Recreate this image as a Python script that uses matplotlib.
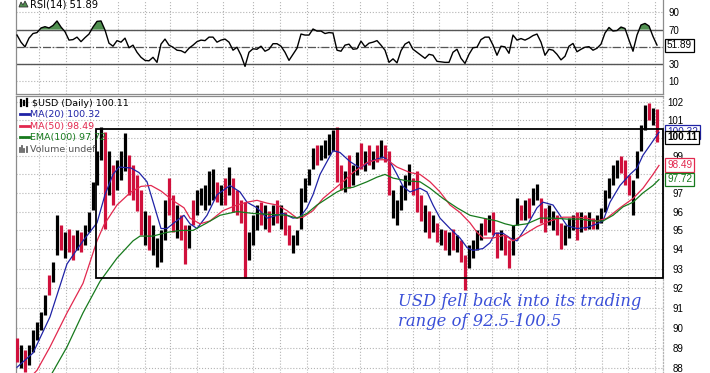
import numpy as np
import matplotlib
matplotlib.use("Agg")
import matplotlib.pyplot as plt
from matplotlib.lines import Line2D
from matplotlib.patches import Rectangle, Polygon

# ---- data (one bar roughly every 3-4 sessions) ----
highs = [89.5, 89.15, 88.9, 89.15, 89.9, 90.3, 90.8, 91.65, 92.7, 93.35,
         95.8, 95.3, 94.9, 95.1, 94.75, 95.0, 94.9, 95.3, 95.95, 97.6,
         99.3, 100.6, 100.35, 99.3, 98.5, 98.8, 99.3, 100.3, 99.05, 98.5,
         97.95, 97.15, 96.05, 95.8, 95.3, 94.6, 95.0, 96.6, 97.8, 96.9,
         96.35, 95.8, 95.3, 95.3, 96.6, 97.15, 97.25, 97.4, 98.2, 98.3,
         97.6, 97.4, 97.8, 98.4, 97.8, 97.15, 96.6, 96.5, 94.9, 95.8,
         96.35, 96.5, 96.35, 96.05, 96.35, 96.6, 96.35, 95.95, 95.3, 94.75,
         95.0, 97.25, 97.8, 98.3, 99.45, 99.6, 99.6, 99.9, 100.2, 100.45,
         100.6, 98.5, 98.2, 99.05, 98.5, 99.2, 99.7, 99.3, 99.6, 99.3,
         99.6, 99.9, 99.6, 99.3, 97.15, 96.6, 97.4, 97.95, 98.55, 97.8,
         98.2, 96.9, 96.35, 96.05, 95.8, 95.4, 95.1, 95.0, 94.9, 95.1,
         94.75, 94.5, 93.7, 94.25, 94.5, 95.0, 95.4, 95.65, 95.8, 95.95,
         94.9, 95.0, 94.75, 94.5, 95.3, 96.7, 96.35, 96.6, 96.7, 97.25,
         97.5, 96.7, 96.2, 96.35, 96.05, 95.8, 95.4, 95.3, 95.65, 95.8,
         95.95, 95.95, 95.8, 95.95, 95.65, 95.8, 96.2, 97.15, 97.8, 98.5,
         98.8, 99.0, 98.8, 97.95, 97.7, 99.3, 100.75, 101.85, 101.95, 101.7,
         101.6]
lows = [88.3, 88.0, 87.8, 88.15, 88.8, 89.4, 89.9, 90.65, 91.65, 92.3,
        93.7, 93.95, 93.55, 93.85, 93.45, 93.95, 93.85, 94.25, 94.9, 96.1,
        97.45, 98.8, 95.1, 96.9, 96.35, 97.15, 97.7, 98.2, 96.9, 96.6,
        96.05, 94.75, 94.25, 93.95, 93.7, 93.1, 93.35, 94.5, 95.8, 94.9,
        94.6, 94.5, 93.25, 94.1, 95.3, 95.8, 96.35, 96.1, 96.35, 96.6,
        96.5, 96.35, 96.35, 96.9, 95.95, 95.8, 95.4, 92.5, 93.45, 94.25,
        95.0, 95.3, 95.1, 94.9, 95.3, 95.4, 95.1, 94.75, 94.25, 93.8,
        94.25, 95.1, 96.5, 97.4, 98.3, 98.5, 98.8, 98.9, 99.05, 99.3,
        97.6, 97.15, 97.05, 97.25, 97.45, 97.95, 98.3, 98.2, 98.5, 98.3,
        98.7, 98.9, 98.7, 96.9, 95.65, 95.3, 96.1, 96.6, 97.4, 96.9,
        95.95, 95.5, 94.9, 94.6, 94.9, 94.4, 94.25, 93.95, 93.7, 93.95,
        93.85, 93.35, 91.9, 93.05, 93.55, 93.95, 94.5, 94.75, 94.9, 94.75,
        93.55, 93.95, 93.7, 93.05, 93.7, 95.3, 95.55, 95.55, 95.65, 96.35,
        96.6, 95.4, 94.9, 95.3, 95.0, 94.75, 94.05, 94.25, 94.6, 95.0,
        94.5, 94.9, 95.0, 95.1, 95.1, 95.1, 95.4, 95.95, 96.7, 97.4,
        97.8, 98.1, 97.4, 96.9, 95.8, 97.8, 99.3, 100.45, 101.0, 100.75,
        99.8]
# k = closed up (black), r = closed down (red)
bar_colors = ("rkrkkkkkrk" "krkrrkrkkk" "kkrkrkkkrr" "rrkrkkkkrr" "krrkrkkkkk"
              "rkrkrrrrkk" "krkrkrkrrk" "kkkkkrkkkk" "rrkrkkrkrk" "rkrrkkkkkr"
              "rrkrkrkrkr" "krrkkkkrkr" "rkrrkkrkrk" "krrkkrrkkk" "rkrkrkkkkk"
              "krrrkkkkrk" "r")

rsi14 = [63.6, 55.3, 49.8, 60.0, 65.4, 66.5, 71.9, 73.4, 71.9, 74.8,
         80.1, 73.0, 67.5, 57.7, 58.3, 61.2, 55.9, 60.6, 64.8, 73.0,
         79.6, 80.1, 69.5, 54.1, 50.6, 57.1, 55.3, 60.0, 48.8, 51.8,
         43.5, 37.6, 34.0, 33.5, 37.6, 31.7, 53.0, 58.9, 51.8, 49.4,
         45.9, 45.3, 42.9, 48.2, 51.8, 55.9, 57.7, 57.1, 61.2, 61.2,
         55.3, 57.7, 58.9, 55.3, 45.9, 49.4, 40.0, 27.0, 43.5, 47.6,
         47.0, 50.6, 44.7, 47.0, 53.5, 53.5, 50.6, 43.5, 34.0, 41.1,
         48.2, 64.8, 63.6, 63.6, 70.7, 68.3, 68.3, 65.4, 66.5, 66.0,
         45.9, 44.7, 51.8, 53.0, 47.0, 47.6, 56.5, 50.0, 54.1, 55.3,
         57.1, 51.8, 45.9, 31.7, 35.8, 31.1, 45.3, 53.0, 55.7, 47.0,
         43.5, 40.0, 36.4, 41.1, 40.0, 32.9, 32.3, 31.7, 31.7, 43.5,
         47.0, 36.4, 30.5, 41.1, 48.8, 49.4, 58.3, 61.2, 61.2, 51.8,
         40.0, 50.6, 49.8, 42.3, 63.6, 57.7, 59.5, 57.7, 60.0, 63.0,
         64.8, 55.3, 40.0, 47.0, 45.9, 41.1, 34.6, 38.8, 50.6, 53.8,
         44.1, 47.0, 49.4, 50.0, 45.9, 48.2, 53.0, 66.0, 72.5, 68.3,
         68.9, 73.0, 71.3, 57.7, 44.7, 63.6, 75.4, 77.2, 74.2, 62.0,
         51.89]

ma20_at = [0, 4, 8.25, 12.5, 16.5, 20, 22, 24, 25.5, 28.5,
           30.5, 32.5, 34.25, 36, 37.5, 39.25, 41.75, 43.25, 45, 47.5,
           50, 53.25, 55.75, 57.5, 60, 62.5, 65, 66.5, 69, 70.75,
           72.5, 74, 75.75, 77.5, 79, 80.75, 83.25, 85.75, 88.25, 91.5,
           93.25, 95, 96.5, 98.25, 100.75, 102.5, 104, 105.75, 108.25, 110.75,
           112.5, 114, 116.5, 118.25, 119.5, 121.5, 123.25, 125, 127.5, 130,
           131.5, 134, 135.75, 137.5, 140, 142.5, 145, 146.5, 148.25, 150.75,
           153.25, 155, 156.5, 158.25, 160.5]
ma20 = [88.05, 88.75, 90.55, 93.25, 94.45, 95.4, 96.9, 98.0, 98.4, 98.35,
        98.1, 97.6, 96.35, 95.1, 95.1, 95.4, 95.8, 95.35, 95.1, 95.8,
        96.9, 97.4, 97.05, 96.5, 96.2, 95.65, 95.8, 95.9, 95.65, 95.7,
        96.2, 96.9, 98.0, 98.7, 99.3, 99.2, 98.7, 98.35, 98.7, 98.95,
        98.7, 98.0, 97.35, 97.05, 97.25, 97.05, 96.35, 95.65, 95.1, 94.6,
        94.1, 93.95, 94.05, 94.35, 94.85, 94.85, 94.6, 94.45, 95.25, 96.2,
        96.5, 96.35, 95.8, 95.25, 95.1, 95.15, 95.35, 95.5, 96.5, 97.4,
        98.0, 98.35, 99.05, 99.6, 100.32]

ma50_at = [3, 5, 8.25, 12.5, 16.5, 20, 21.75, 25, 28.5, 31, 33.5,
           36, 39.25, 41.75, 43.25, 45.75, 48.25, 51.5, 55, 57.5, 60,
           62.5, 65, 67.5, 70, 71.5, 74, 76.5, 79, 82, 84,
           87.5, 90, 92.5, 95, 98.25, 100.75, 103.25, 105.75, 108.25, 110.75,
           113.25, 115, 116.5, 119, 122, 124, 126.5, 130, 133.25, 136.5,
           140, 142.5, 145, 147.5, 150.75, 154, 156.5, 159, 160.5]
ma50 = [87.5, 87.9, 89.05, 90.75, 92.25, 94.45, 95.3, 96.35, 97.05, 97.35, 97.4,
        97.1, 96.55, 96.2, 95.65, 95.35, 95.5, 96.05, 96.35, 96.5, 96.6,
        96.45, 96.35, 96.05, 95.65, 95.7, 96.05, 96.7, 97.15, 97.7, 98.1,
        98.65, 98.8, 98.8, 98.4, 98.1, 98.0, 97.6, 97.05, 96.35, 95.95,
        95.4, 94.9, 94.6, 94.6, 94.75, 94.45, 94.75, 95.2, 95.5, 95.7,
        95.7, 95.65, 95.5, 95.65, 96.2, 96.7, 97.25, 98.0, 98.49]

ema100_at = [8, 12.5, 16.5, 20.75, 25, 29, 30.75, 34, 37.5, 41,
             44, 47.5, 50.75, 55, 59, 63.25, 67.5, 70, 72.5, 75,
             77.5, 80, 82, 84, 87.5, 90, 92, 94, 97.5, 100.75,
             103.25, 106.5, 110, 113.25, 116.5, 120, 122, 124, 127.5, 130.75,
             134, 137.5, 140.75, 144, 146.5, 149, 151.5, 154, 156.5, 159,
             160.5]
ema100 = [87.5, 89.05, 90.75, 92.35, 93.55, 94.45, 94.7, 94.7, 94.9, 95.0,
          95.0, 95.4, 95.8, 96.0, 95.9, 95.85, 95.8, 95.65, 95.9, 96.35,
          96.7, 97.05, 97.25, 97.3, 97.6, 97.85, 98.0, 97.8, 97.65, 97.6,
          97.25, 96.7, 96.2, 95.8, 95.65, 95.5, 95.35, 95.25, 95.35, 95.65,
          95.65, 95.6, 95.6, 95.5, 95.5, 95.8, 96.25, 96.5, 97.0, 97.4,
          97.72]

# month boundaries (bar positions) used for the vertical grid
month_starts = [5.5, 12.25, 18.25, 25.25, 32, 38.25, 45, 51.5, 59, 65.75,
                72.5, 79, 85.75, 92.5, 99, 105.5, 112.5, 118.75, 125.25, 132.5,
                139.5, 146.25, 152.75, 159.5]

range_low, range_high = 92.5, 100.5
range_from = 19.75

price_ticks = list(range(88, 103))
hidden_price_ticks = [100]      # covered by the last-value boxes
rsi_ticks = [10, 30, 50, 70, 90]
hidden_rsi_ticks = [50]

last_close, last_ma20, last_ma50, last_ema = 100.11, 100.32, 98.49, 97.72
last_rsi = 51.89

# ---- layout (pixel based, 710x373) ----
W, H = 710, 373
fig = plt.figure(figsize=(W / 100, H / 100), dpi=100)


def fx(px):
    return px / W


def fy(py):
    return 1 - py / H


X0, X1 = 16, 663
ax_rsi = fig.add_axes([fx(X0), fy(94), (X1 - X0) / W, 94 / H])
ax = fig.add_axes([fx(X0), 0, (X1 - X0) / W, fy(96)])

GRID = '#b4b4b4'
SPINE = '#8c8c8c'
RED = '#d0103c'
C_MA20 = '#1f22a6'
C_MA50 = '#e2284e'
C_EMA = '#177a1d'

xs = np.arange(len(highs))
xlim = (-0.25, 161.5)

# ---- RSI panel ----
rsi = np.array(rsi14)
ax_rsi.plot(xs, rsi, color='black', lw=1.0, zorder=4)
ax_rsi.fill_between(xs, rsi, 70, where=rsi > 70, interpolate=True,
                    color='#4f8f4f', zorder=3, lw=0)
ax_rsi.fill_between(xs, rsi, 30, where=rsi < 30, interpolate=True,
                    color='#4f8f4f', zorder=3, lw=0)
ax_rsi.axhline(70, color='#555555', lw=1.0, zorder=2)
ax_rsi.axhline(30, color='#555555', lw=1.0, zorder=2)
ax_rsi.axhline(50, color='#555555', lw=0.9, ls='-.', zorder=2)
ax_rsi.set_xlim(*xlim)
ax_rsi.set_ylim(-5.3, 104.6)
ax_rsi.set_xticks(month_starts)
ax_rsi.set_yticks(rsi_ticks)
ax_rsi.set_yticklabels(['' if t in hidden_rsi_ticks else str(t) for t in rsi_ticks])
ax_rsi.yaxis.tick_right()
ax_rsi.tick_params(length=0, labelbottom=False, labelsize=7, pad=4,
                   labelfontfamily='Liberation Sans')
ax_rsi.grid(True, ls=':', color=GRID, lw=0.8, zorder=0)
for side, sp in ax_rsi.spines.items():
    sp.set_color(SPINE)
    sp.set_linewidth(0.9)
ax_rsi.spines['top'].set_visible(False)

# ---- price panel ----
cols = ['black' if c == 'k' else RED for c in bar_colors]
ax.vlines(xs, lows, highs, colors=cols, lw=2.3, zorder=3)
ax.plot(ma20_at, ma20, color=C_MA20, lw=0.9, zorder=4)
ax.plot(ma50_at, ma50, color=C_MA50, lw=0.9, zorder=4)
ax.plot(ema100_at, ema100, color=C_EMA, lw=0.9, zorder=4)

ax.add_patch(Rectangle((range_from, range_low), xlim[1] - range_from,
                       range_high - range_low, fill=False, ec='black',
                       lw=1.3, zorder=5, clip_on=False))

ax.set_yscale('log')
ax.set_xlim(*xlim)
ax.set_ylim(87.77, 102.36)
ax.set_xticks(month_starts)
ax.set_yticks(price_ticks)
ax.set_yticklabels(['' if t in hidden_price_ticks else str(t) for t in price_ticks])
ax.yaxis.set_minor_locator(plt.NullLocator())
ax.yaxis.tick_right()
ax.tick_params(length=0, labelbottom=False, labelsize=7, pad=15,
               labelfontfamily='Liberation Sans')
for lab in ax.get_yticklabels():
    lab.set_ha('right')
ax.grid(True, ls=':', color=GRID, lw=0.8, zorder=0)
for side, sp in ax.spines.items():
    sp.set_color(SPINE)
    sp.set_linewidth(0.9)
ax.spines['bottom'].set_visible(False)
ax.spines['right'].set_linestyle(':')
ax.spines['right'].set_color(GRID)

# ---- labels ----
fig.add_artist(Polygon([[fx(19), fy(7)], [fx(21), fy(2)], [fx(23), fy(5)],
                        [fx(25), fy(1)], [fx(28), fy(7)]],
                       closed=True, fc='#4f8f4f', ec='#333333', lw=0.6))
fig.text(fx(30), fy(7.5), f'RSI(14) {last_rsi}', fontsize=7.2,
         va='baseline', color='black')

legend = [(f'$USD (Daily) {last_close}', 'black', 106),
          (f'MA(20) {last_ma20}', C_MA20, 117.5),
          (f'MA(50) {last_ma50}', C_MA50, 129),
          (f'EMA(100) {last_ema}', C_EMA, 140.5),
          ('Volume undef', '#555555', 152)]
for i, (txt, c, base) in enumerate(legend):
    x_txt = 32 if i == 0 else 29.5
    fig.text(fx(x_txt), fy(base), txt, color=c, fontsize=6.8, va='baseline',
             zorder=6)
    if i in (1, 2, 3):
        fig.add_artist(Line2D([fx(20), fx(28.5)], [fy(base - 3.2)] * 2,
                              color=c, lw=2.0))
for k, (a, b) in enumerate([(100, 106), (101, 105), (99, 106)]):
    fig.add_artist(Line2D([fx(20.5 + 3 * k)] * 2, [fy(a), fy(b)],
                          color='black', lw=1.6))
for k, h in enumerate([4, 6, 3, 5]):
    fig.add_artist(Line2D([fx(20 + 2.2 * k)] * 2, [fy(152), fy(152 - h)],
                          color='#666666', lw=1.3))


# value boxes on the right axis
def value_box(py, txt, color, bold=False):
    fig.text(fx(667), fy(py), txt, fontsize=7.2, color=color,
             fontweight='bold' if bold else 'normal', va='center', ha='left',
             family='Liberation Sans', zorder=10,
             bbox=dict(boxstyle='square,pad=0.18', fc='white', ec=color,
                       lw=0.9))


value_box(45.5, f'{last_rsi}', 'black')
value_box(132, f'{last_ma20}', C_MA20)
value_box(137.5, f'{last_close}', 'black', bold=True)
value_box(165, f'{last_ma50}', C_MA50)
value_box(179.5, f'{last_ema}', C_EMA)

# annotation
fig.text(fx(398), fy(326), 'USD fell back into its trading\nrange of 92.5-100.5',
         color='#3a4fd8', fontsize=11.8, style='italic', family='DejaVu Serif',
         va='baseline', linespacing=1.2)

fig.savefig('out.png', dpi=100)
